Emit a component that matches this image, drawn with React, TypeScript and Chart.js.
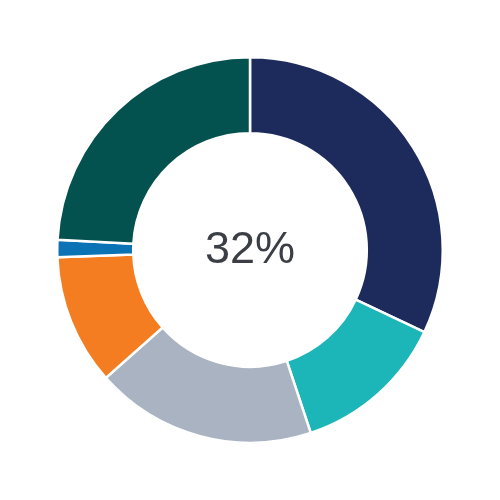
import React, { useEffect, useRef } from "react";
import { Chart, registerables } from "chart.js";

Chart.register(...registerables);

const categories = ["Segment A", "Segment B", "Segment C", "Segment D", "Segment E", "Segment F"];
const values = [32, 12.9, 18.55, 10.95, 1.45, 24.15];
const colors = ["#1d2b5c", "#1cb5b8", "#a9b3c2", "#f37d20", "#0a72b5", "#03524f"];
const centerLabel = "32%";

const centerTextPlugin = {
  id: "centerText",
  afterDraw(chart: any) {
    const { ctx, chartArea } = chart;
    const cx = (chartArea.left + chartArea.right) / 2;
    const cy = (chartArea.top + chartArea.bottom) / 2;
    ctx.save();
    ctx.font = '45px "Liberation Sans", Arial, sans-serif';
    ctx.fillStyle = "#3b3f45";
    ctx.textAlign = "center";
    ctx.textBaseline = "alphabetic";
    ctx.fillText(centerLabel, cx, cy + 13);
    ctx.restore();
  },
};

export default function App() {
  const ref = useRef<HTMLCanvasElement | null>(null);
  useEffect(() => {
    if (!ref.current) return;
    const chart = new Chart(ref.current, {
      type: "doughnut",
      data: {
        labels: categories,
        datasets: [
          {
            data: values,
            backgroundColor: colors,
            borderColor: "#ffffff",
            borderWidth: 2.5,
          },
        ],
      },
      options: {
        animation: false,
        responsive: false,
        cutout: "60.6%",
        layout: { padding: 56 },
        plugins: {
          legend: { display: false },
          tooltip: { enabled: false },
        },
      },
      plugins: [centerTextPlugin],
    });
    return () => chart.destroy();
  }, []);
  return (
    <div style={{ position: "absolute", left: 0, top: 0, width: 500, height: 500, background: "#fff" }}>
      <canvas ref={ref} width={500} height={500} style={{ width: 500, height: 500 }} />
    </div>
  );
}
